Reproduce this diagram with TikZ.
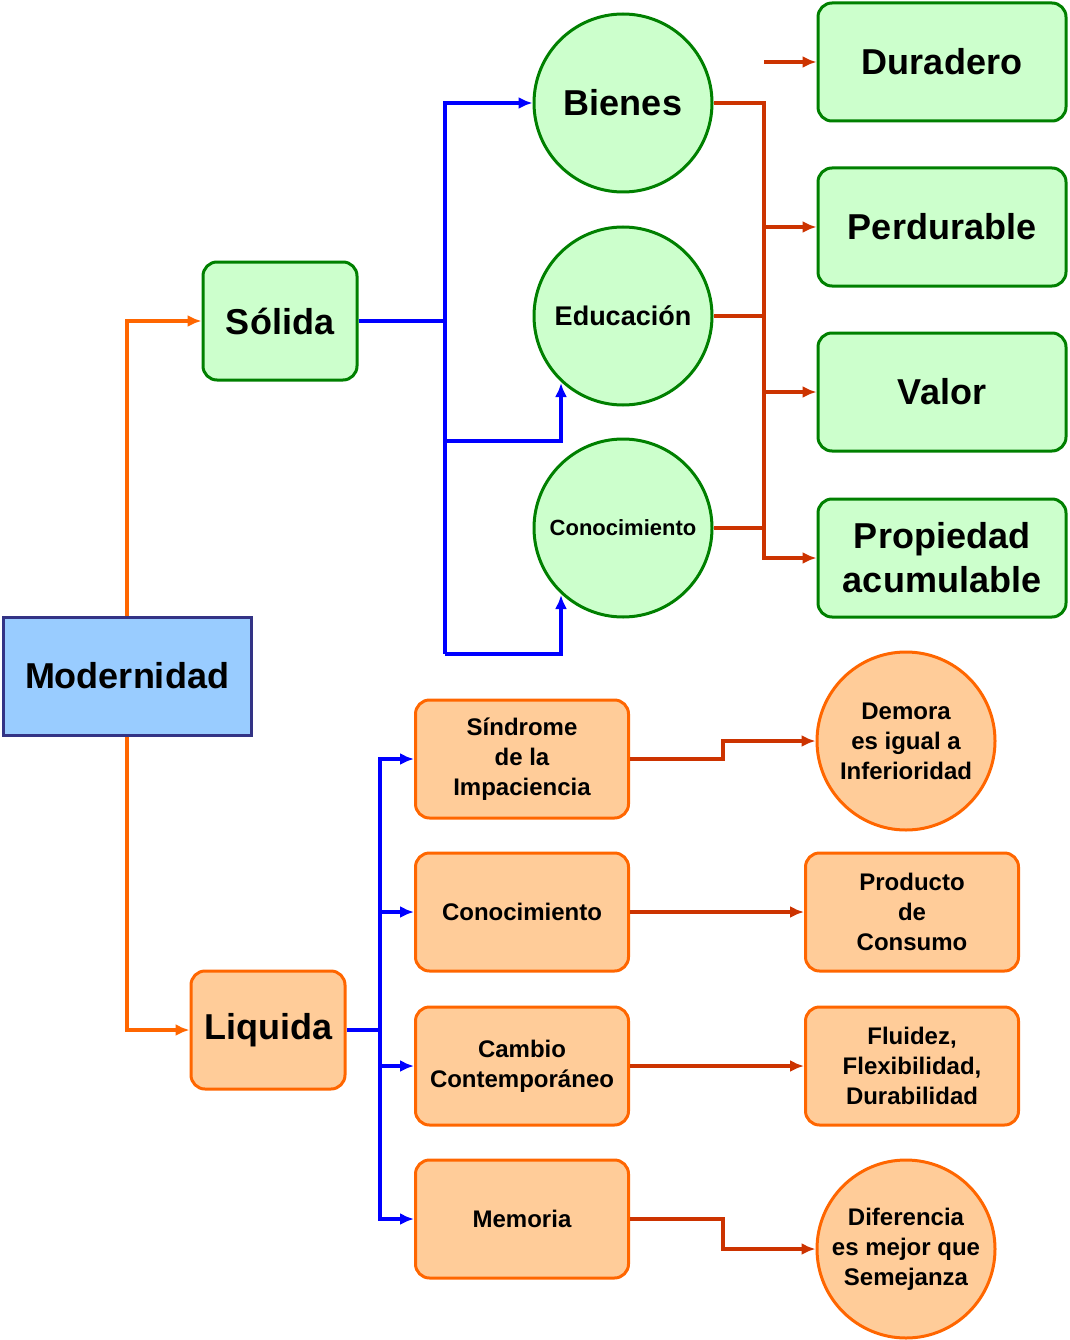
\documentclass[tikz,border=0pt]{standalone}
\usepackage{fontspec}
\setmainfont{Liberation Sans}
\usetikzlibrary{arrows.meta}
\begin{document}
\begin{tikzpicture}[x=1pt,y=-1pt,font=\bfseries,
 gbox/.style={draw=green!50!black,fill=gfill,line width=3pt,rounded corners=14pt,minimum width=248pt,minimum height=118pt,align=center,inner sep=0pt},
 gcirc/.style={circle,draw=green!50!black,fill=gfill,line width=3pt,minimum size=178pt,inner sep=0pt},
 obox/.style={draw=ored,fill=ofill,line width=3pt,rounded corners=14pt,minimum width=213pt,minimum height=118pt,align=center,inner sep=0pt},
 ocirc/.style={circle,draw=ored,fill=ofill,line width=3pt,minimum size=178pt,inner sep=0pt,align=center},
 bl/.style={draw=blue,line width=4pt},
 rd/.style={draw=rred,line width=4pt},
 or/.style={draw=ored,line width=3.5pt},
 tip/.style={-{Latex[length=14pt,width=12pt]}}]
\definecolor{gfill}{HTML}{CCFFCC}
\definecolor{ofill}{HTML}{FFCC99}
\definecolor{ored}{HTML}{FF6600}
\definecolor{rred}{HTML}{CC3300}
\definecolor{mfill}{HTML}{99CCFF}
\useasboundingbox (0,0) rectangle (1069,1340);
\node[draw=blue!40!black!80,fill=mfill,line width=3pt,minimum width=248pt,minimum height=118pt,font=\bfseries\fontsize{36}{40}\selectfont] (mod) at (127,676) {Modernidad};
\node[gbox,minimum width=154pt,font=\bfseries\fontsize{36}{40}\selectfont] (sol) at (280,321) {Sólida};
\node[obox,minimum width=154pt,font=\bfseries\fontsize{36}{40}\selectfont] (liq) at (268,1030) {Liquida};
\node[gcirc,font=\bfseries\fontsize{36}{40}\selectfont] (bie) at (623,103) {Bienes};
\node[gcirc,font=\bfseries\fontsize{27}{30}\selectfont] (edu) at (623,316) {Educación};
\node[gcirc,font=\bfseries\fontsize{22}{26}\selectfont] (con) at (623,528) {Conocimiento};
\node[gbox,font=\bfseries\fontsize{36}{40}\selectfont] (dur) at (942,62) {Duradero};
\node[gbox,font=\bfseries\fontsize{36}{40}\selectfont] (per) at (942,227) {Perdurable};
\node[gbox,font=\bfseries\fontsize{36}{40}\selectfont] (val) at (942,392) {Valor};
\node[gbox,font=\bfseries\fontsize{36}{44}\selectfont] (pro) at (942,558) {Propiedad\\acumulable};
\node[obox,font=\bfseries\fontsize{24}{30}\selectfont] (sin) at (522,759) {Síndrome\\de la\\Impaciencia};
\node[obox,font=\bfseries\fontsize{24}{30}\selectfont] (co2) at (522,912) {Conocimiento};
\node[obox,font=\bfseries\fontsize{24}{30}\selectfont] (cam) at (522,1066) {Cambio\\Contemporáneo};
\node[obox,font=\bfseries\fontsize{24}{30}\selectfont] (mem) at (522,1219) {Memoria};
\node[ocirc,font=\bfseries\fontsize{24}{30}\selectfont] (dem) at (906,741) {Demora\\es igual a\\Inferioridad};
\node[obox,font=\bfseries\fontsize{24}{30}\selectfont] (prc) at (912,912) {Producto\\de\\Consumo};
\node[obox,font=\bfseries\fontsize{24}{30}\selectfont] (flu) at (912,1066) {Fluidez,\\Flexibilidad,\\Durabilidad};
\node[ocirc,font=\bfseries\fontsize{24}{30}\selectfont] (dif) at (906,1249) {Diferencia\\es mejor que\\Semejanza};
% orange
\draw[or,tip] (mod.north) |- (sol.west);
\draw[or,tip] (mod.south) |- (liq.west);
% blue solid
\coordinate (bj) at (445,321);
\draw[bl] (sol.east) -- (bj);
\draw[bl,tip] (bj) |- (bie.west);
\draw[bl] (bj) -- (445,654);
\draw[bl,tip] (445,441) -| (561,383);
\draw[bl,tip] (445,654) -| (561,595);
% red
\coordinate (rj) at (764,316);
\draw[rd] (bie.east) -| (rj);
\draw[rd] (edu.east) -- (rj);
\draw[rd] (con.east) -| (rj);
\draw[rd,tip] (764,62) -- (dur.west);
\draw[rd,tip] (rj) |- (per.west);
\draw[rd,tip] (rj) |- (val.west);
\draw[rd,tip] (rj) |- (pro.west);
% blue liquid
\coordinate (lj) at (380,1030);
\draw[bl] (liq.east) -- (lj);
\draw[bl,tip] (lj) |- (sin.west);
\draw[bl,tip] (lj) |- (co2.west);
\draw[bl,tip] (lj) |- (cam.west);
\draw[bl,tip] (lj) |- (mem.west);
% red liquid
\draw[rd,tip] (sin.east) -- (723,759) -- (723,741) -- (dem.west);
\draw[rd,tip] (co2.east) -- (prc.west);
\draw[rd,tip] (cam.east) -- (flu.west);
\draw[rd,tip] (mem.east) -- (723,1219) -- (723,1249) -- (dif.west);
\end{tikzpicture}
\end{document}
